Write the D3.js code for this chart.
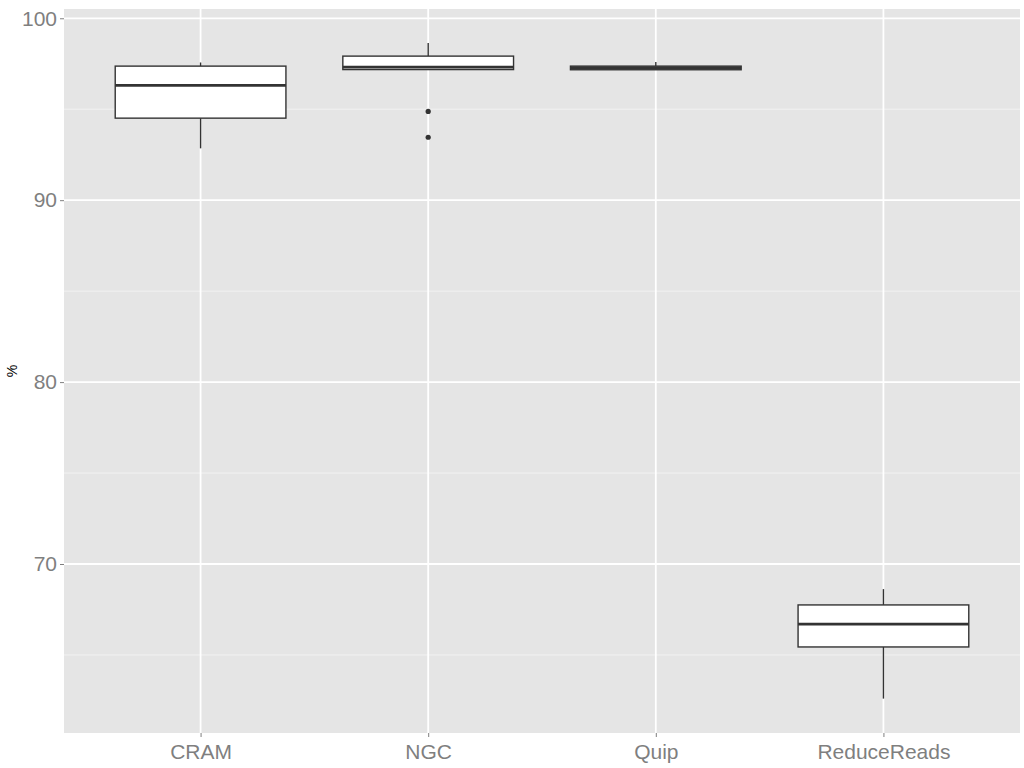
<!DOCTYPE html>
<html>
<head>
<meta charset="utf-8">
<title>Boxplot</title>
<script src="https://cdn.jsdelivr.net/npm/d3@7"></script>
<style>
    body { margin: 0; background: #fff; }
    svg { display: block; font-family: "Liberation Sans", Arial, sans-serif; }
</style>
</head>
<body>
<div id="chart"></div>
<script>
    // data
    const categories = ["CRAM", "NGC", "Quip", "ReduceReads"];
    const whiskerLow  = [92.85, 97.18, 97.17, 62.6];
    const q1          = [94.51, 97.18, 97.17, 65.44];
    const median      = [96.31, 97.31, 97.28, 66.7];
    const q3          = [97.37, 97.92, 97.37, 67.75];
    const whiskerHigh = [97.57, 98.64, 97.59, 68.62];
    const outliers    = [[], [94.88, 93.46], [], []];
    const yTicks = [70, 80, 90, 100];
    const yMinor = [65, 75, 85, 95];

    const width = 1024, height = 768;
    const margin = {top: 9, right: 4, bottom: 35, left: 64};
    const pw = width - margin.left - margin.right;
    const ph = height - margin.top - margin.bottom;

    const svg = d3.select("#chart").append("svg")
        .attr("width", width)
        .attr("height", height);

    const g = svg.append("g").attr("transform", `translate(${margin.left},${margin.top})`);

    // ggplot discrete axis: 0.6 expansion each side
    const x = d3.scalePoint().domain(categories).range([0, pw]).padding(0.6);
    const step = x.step();
    const boxW = step * 0.75;
    const y = d3.scaleLinear().domain([60.71, 100.51]).range([ph, 0]);

    g.append("rect")
        .attr("width", pw).attr("height", ph)
        .attr("fill", "#e5e5e5");

    g.selectAll("line.minor").data(yMinor).join("line")
        .attr("class", "minor")
        .attr("x1", 0).attr("x2", pw)
        .attr("y1", d => y(d)).attr("y2", d => y(d))
        .attr("stroke", "#f2f2f2").attr("stroke-width", 1);

    g.selectAll("line.majory").data(yTicks).join("line")
        .attr("class", "majory")
        .attr("x1", 0).attr("x2", pw)
        .attr("y1", d => y(d)).attr("y2", d => y(d))
        .attr("stroke", "#fff").attr("stroke-width", 1.8);

    g.selectAll("line.majorx").data(categories).join("line")
        .attr("class", "majorx")
        .attr("y1", 0).attr("y2", ph)
        .attr("x1", d => x(d)).attr("x2", d => x(d))
        .attr("stroke", "#fff").attr("stroke-width", 1.8);

    const stats = categories.map((c, i) => ({
        cat: c, lo: whiskerLow[i], q1: q1[i], med: median[i], q3: q3[i], hi: whiskerHigh[i], out: outliers[i]
    }));

    const box = g.selectAll("g.box").data(stats).join("g").attr("class", "box");
    const lineCol = "#333333";

    box.append("line")
        .attr("x1", d => x(d.cat)).attr("x2", d => x(d.cat))
        .attr("y1", d => y(d.hi)).attr("y2", d => y(d.q3))
        .attr("stroke", lineCol).attr("stroke-width", 1.4);
    box.append("line")
        .attr("x1", d => x(d.cat)).attr("x2", d => x(d.cat))
        .attr("y1", d => y(d.q1)).attr("y2", d => y(d.lo))
        .attr("stroke", lineCol).attr("stroke-width", 1.4);
    box.append("rect")
        .attr("x", d => x(d.cat) - boxW / 2)
        .attr("width", boxW)
        .attr("y", d => y(d.q3))
        .attr("height", d => y(d.q1) - y(d.q3))
        .attr("fill", "#fff")
        .attr("stroke", lineCol).attr("stroke-width", 1.4);
    box.append("line")
        .attr("x1", d => x(d.cat) - boxW / 2).attr("x2", d => x(d.cat) + boxW / 2)
        .attr("y1", d => y(d.med)).attr("y2", d => y(d.med))
        .attr("stroke", lineCol).attr("stroke-width", 2.8);
    box.selectAll("circle").data(d => d.out.map(v => ({cat: d.cat, v}))).join("circle")
        .attr("cx", d => x(d.cat)).attr("cy", d => y(d.v))
        .attr("r", 2.6).attr("fill", lineCol);

    // axes
    const yAxis = g.append("g").call(d3.axisLeft(y).tickValues(yTicks).tickSize(4).tickPadding(3));
    const xAxis = g.append("g").attr("transform", `translate(0,${ph})`)
        .call(d3.axisBottom(x).tickSize(4).tickPadding(7));
    [yAxis, xAxis].forEach(a => {
        a.select(".domain").remove();
        a.selectAll(".tick line").attr("stroke", "#7f7f7f");
        a.selectAll(".tick text").attr("fill", "#7f7f7f").style("font-size", "21px");
    });

    svg.append("text")
        .attr("transform", `translate(17,${margin.top + ph / 2}) rotate(-90)`)
        .attr("text-anchor", "middle")
        .style("font-size", "14px")
        .attr("fill", "#000")
        .text("%");
</script>
</body>
</html>
